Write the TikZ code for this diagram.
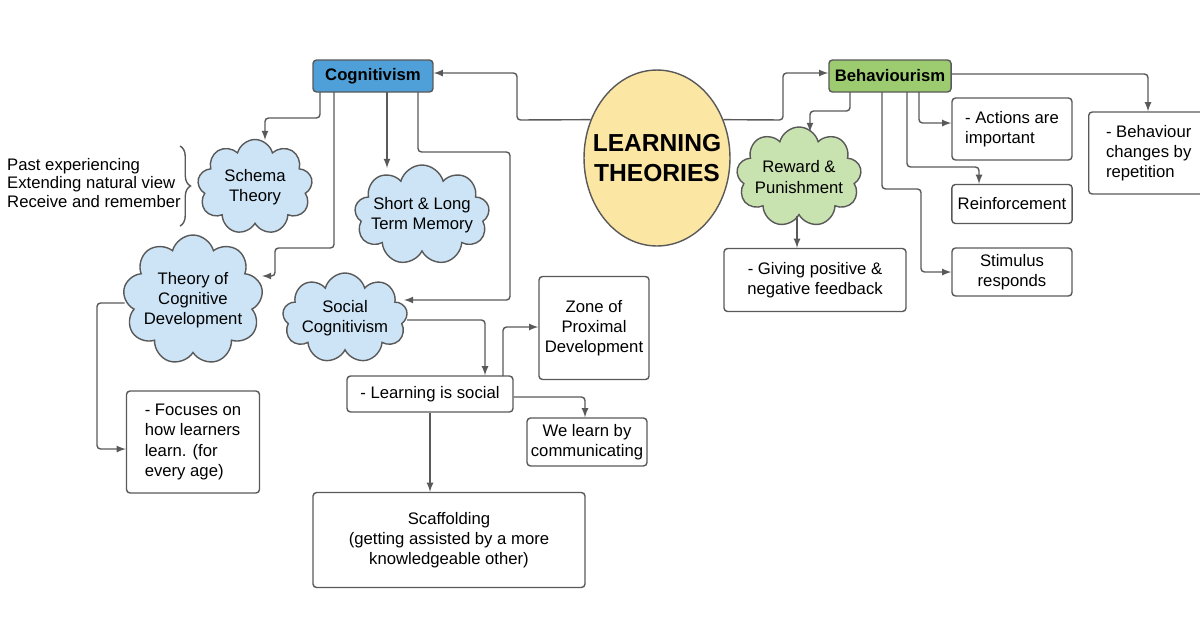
\documentclass[tikz,border=0pt]{standalone}
\usepackage{fontspec}
\setmainfont{Liberation Sans}
\usetikzlibrary{shapes.symbols,shapes.geometric,decorations.pathreplacing}
\definecolor{cogblue}{HTML}{4F9FD8}
\definecolor{cloudblue}{HTML}{CCE4F6}
\definecolor{behgreen}{HTML}{9CCC6F}
\definecolor{cloudgreen}{HTML}{C9E3B0}
\definecolor{sunny}{HTML}{FCE6A4}
\definecolor{linegray}{HTML}{595959}
\tikzset{box/.style = {draw=linegray,thick,rounded corners=2pt,align=center,font=\fontsize{9.5}{11.5}\selectfont}}
\tikzset{head/.style = {box,font=\bfseries\fontsize{9.5}{11}\selectfont,minimum width=2.4cm,minimum height=0.64cm}}
\tikzset{puff/.style = {cloud,cloud puffs=9,cloud ignores aspect,inner sep=-5pt,draw=linegray,thick,align=center,font=\fontsize{9.5}{11.5}\selectfont}}
\tikzset{edge/.style = {-latex,draw=linegray,thick,rounded corners=2pt}}
\begin{document}
\begin{tikzpicture}[x=0.02cm,y=-0.02cm]
\useasboundingbox (0,0) rectangle (1200,630);
% main nodes
\node[ellipse,draw=linegray,thick,fill=sunny,minimum width=2.92cm,minimum height=3.52cm] (lt) at (657,158) {};
\node[align=center,font=\bfseries\fontsize{14}{17.5}\selectfont] (ltname) at (lt) {LEARNING\\THEORIES};
\node[head,fill=cogblue] (cog) at (373,76) {Cognitivism};
\node[head,fill=behgreen] (beh) at (890,76) {Behaviourism};
% cognitivism side
\node[puff,fill=cloudblue,minimum width=2.3cm,minimum height=1.9cm] (schema) at (255,187) {Schema\\Theory};
\node[puff,fill=cloudblue,minimum width=2.7cm,minimum height=2.0cm] (memory) at (422,215) {Short \& Long\\Term Memory};
\node[puff,fill=cloudblue,minimum width=2.8cm,minimum height=2.6cm] (tcd) at (193,300) {Theory of\\Cognitive\\Development};
\node[puff,fill=cloudblue,minimum width=2.5cm,minimum height=1.8cm] (social) at (345,318) {Social\\Cognitivism};
\node[align=left,font=\fontsize{9.5}{10.5}\selectfont,anchor=west] (past) at (1,183) {Past experiencing\\Extending natural view\\Receive and remember};
\node[box,minimum width=2.14cm,minimum height=2.06cm] (zone) at (594,328) {Zone of\\Proximal\\Development};
\node[box,minimum width=3.32cm,minimum height=0.72cm] (lsoc) at (430,394) {- Learning is social};
\node[box,minimum width=2.4cm,minimum height=0.96cm,inner sep=1pt] (comm) at (587,442) {We learn by\\communicating};
\node[box,minimum width=5.44cm,minimum height=1.9cm] (scaf) at (449,540) {Scaffolding\\(getting assisted by a more\\knowledgeable other)};
\node[box,align=left,minimum width=2.66cm,minimum height=2.04cm] (focus) at (193,442) {- Focuses on\\how learners\\learn. (for\\every age)};
% behaviourism side
\node[puff,fill=cloudgreen,minimum width=2.5cm,minimum height=2.0cm] (reward) at (799,177) {Reward \&\\Punishment};
\node[box,minimum width=3.64cm,minimum height=1.26cm] (feed) at (815,280) {- Giving positive \&\\negative feedback};
\node[box,align=left,minimum width=2.4cm,minimum height=1.24cm] (act) at (1012,129) {- Actions are\\important};
\node[box,minimum width=2.4cm,minimum height=0.78cm] (reinf) at (1012,204) {Reinforcement};
\node[box,minimum width=2.4cm,minimum height=0.96cm] (stim) at (1012,272) {Stimulus\\responds};
\node[box,align=left,minimum width=2.4cm,minimum height=1.64cm,anchor=west] (rep) at (1088,153) {- Behaviour\\changes by\\repetition};
% brace
\draw[linegray,thick,decorate,decoration={brace,amplitude=6pt}] (180,146) -- (180,226);
% edges
\draw[edge] (lt.150) -- (517,120) -- (517,73) -- (cog.east |- 0,73);
\draw[edge] (lt.30) -- (783,120) -- (783,73) -- (beh.west |- 0,73);
\draw[edge] (320,92) -- (320,118) -- (265,118) -- (265,140);
\draw[edge] (334,92) -- (334,248) -- (275,248) -- (275,276) -- (262,276);
\draw[edge] (387,92) -- (387,168);
\draw[edge] (418,92) -- (418,152) -- (510,152) -- (510,300) -- (404,300);
\draw[edge] (social.east |- 0,320) -- (485,320) -- (lsoc.north -| 485,0);
\draw[edge] (503,376) -- (503,327) -- (zone.west |- 0,327);
\draw[edge] (lsoc.east |- 0,397) -- (585,397) -- (comm.north -| 585,0);
\draw[edge] (lsoc.south) -- (scaf.north -| lsoc.south);
\draw[edge] (tcd.west |- 0,303) -- (97,303) -- (97,449) -- (focus.west |- 0,449);
\draw[edge] (850,92) -- (850,111) -- (810,111) -- (810,132);
\draw[edge] (reward.south -| 797,0) -- (feed.north -| 797,0);
\draw[edge] (919,92) -- (919,123) -- (act.west |- 0,123);
\draw[edge] (907,92) -- (907,167) -- (979,167) -- (reinf.north -| 979,0);
\draw[edge] (882,92) -- (882,189) -- (921,189) -- (921,272) -- (stim.west);
\draw[edge] (beh.east |- 0,74) -- (1148,74) -- (rep.north -| 1148,0);
\end{tikzpicture}
\end{document}
